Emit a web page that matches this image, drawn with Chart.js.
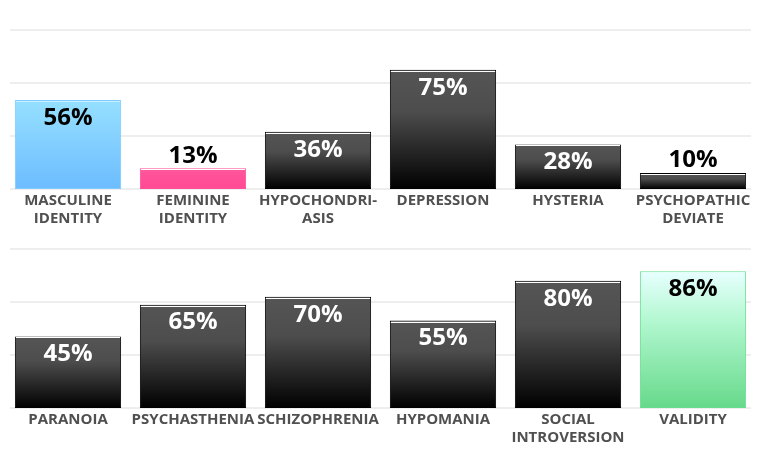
<!DOCTYPE html>
<html lang="en">
<head>
    <title>Personality Scale Bars</title>
    <script src="https://cdn.jsdelivr.net/npm/chart.js"></script>
    <style>
        body { margin: 0; background: #fff; }
        .wrap { position: absolute; left: 0; width: 760px; }
    </style>
</head>
<body>
    <div class="wrap" style="top:0"><canvas id="topChart" width="760" height="235"></canvas></div>
    <div class="wrap" style="top:219px"><canvas id="bottomChart" width="760" height="251"></canvas></div>

    <script type="text/javascript">

        const topLabels = [['MASCULINE', 'IDENTITY'], ['FEMININE', 'IDENTITY'], ['HYPOCHONDRI-', 'ASIS'],
            'DEPRESSION', 'HYSTERIA', ['PSYCHOPATHIC', 'DEVIATE']];
        const topValues = [56, 13, 36, 75, 28, 10];
        const topKinds = ['blue', 'pink', 'dark', 'dark', 'dark', 'dark'];

        const bottomLabels = ['PARANOIA', 'PSYCHASTHENIA', 'SCHIZOPHRENIA', 'HYPOMANIA',
            ['SOCIAL', 'INTROVERSION'], 'VALIDITY'];
        const bottomValues = [45, 65, 70, 55, 80, 86];
        const bottomKinds = ['dark', 'dark', 'dark', 'dark', 'dark', 'green'];

        const gridValues = [0, 100 / 3, 200 / 3, 100];

        const palette = {
            dark: { stops: ['#555555', '#4d4d4d', '#000000'], border: '#000000', text: '#ffffff' },
            blue: { stops: ['#95e0ff', '#88d4ff', '#6cbcff'], border: '#7fcbff', text: '#000000' },
            pink: { stops: ['#ff5a9e', '#ff5199', '#ff4a94'], border: '#ff4f98', text: '#000000' },
            green: { stops: ['#e8ffff', '#b4f8d2', '#66d98a'], border: '#66dd8e', text: '#000000' }
        };

        const gridLines = {
            id: 'gridLines',
            beforeDatasetsDraw(chart) {
                const { ctx, scales: { y } } = chart;
                ctx.save();
                ctx.strokeStyle = '#e9e9e9';
                ctx.lineWidth = 1.5;
                gridValues.forEach(v => {
                    const py = y.getPixelForValue(v);
                    ctx.beginPath();
                    ctx.moveTo(10, py);
                    ctx.lineTo(751, py);
                    ctx.stroke();
                });
                ctx.restore();
            }
        };

        const barDecor = {
            id: 'barDecor',
            afterDatasetsDraw(chart) {
                const { ctx } = chart;
                const kinds = chart.options.plugins.barDecor.kinds;
                const meta = chart.getDatasetMeta(0);
                const values = chart.data.datasets[0].data;
                ctx.save();
                meta.data.forEach((bar, i) => {
                    const half = bar.width / 2;
                    // thin white highlight under the top edge
                    if (kinds[i] !== 'green') {
                        ctx.strokeStyle = kinds[i] === 'blue' ? 'rgba(255,255,255,0.5)' : '#ffffff';
                        ctx.lineWidth = 1;
                        ctx.beginPath();
                        ctx.moveTo(bar.x - half + 1, Math.round(bar.y) + 1.5);
                        ctx.lineTo(bar.x + half - 1, Math.round(bar.y) + 1.5);
                        ctx.stroke();
                    }
                    const inside = values[i] >= 20;
                    ctx.font = 'bold 24px "Open Sans"';
                    ctx.textAlign = 'center';
                    ctx.textBaseline = 'middle';
                    ctx.fillStyle = inside ? palette[kinds[i]].text : '#000000';
                    ctx.fillText(values[i] + '%', bar.x, inside ? bar.y + 18 : bar.y - 12.5);
                });
                ctx.restore();
            }
        };

        function makeChart(id, labels, values, kinds, axisHeight) {
            return new Chart(document.getElementById(id), {
                type: 'bar',
                data: {
                    labels: labels,
                    datasets: [{
                        data: values,
                        backgroundColor(c) {
                            const { chart, dataIndex } = c;
                            if (!chart.chartArea) return palette[kinds[dataIndex]].stops[2];
                            const y = chart.scales.y;
                            const top = y.getPixelForValue(values[dataIndex]);
                            const base = y.getPixelForValue(0);
                            const s = palette[kinds[dataIndex]].stops;
                            const g = chart.ctx.createLinearGradient(0, top, 0, base);
                            g.addColorStop(0, s[0]);
                            g.addColorStop(0.35, s[1]);
                            g.addColorStop(1, s[2]);
                            return g;
                        },
                        borderColor: kinds.map(k => palette[k].border),
                        borderWidth: 1,
                        borderSkipped: false,
                        categoryPercentage: 1,
                        barPercentage: 0.85
                    }]
                },
                options: {
                    responsive: false,
                    animation: false,
                    layout: { padding: { top: 30, left: 5.5, right: 4.5, bottom: 0 } },
                    scales: {
                        y: { display: false, min: 0, max: 100 },
                        x: {
                            grid: { display: false, drawTicks: false },
                            border: { display: false },
                            afterFit(axis) { axis.height = axisHeight; },
                            ticks: {
                                color: '#505050',
                                font: { family: '"Open Sans"', weight: 'bold', size: 15, lineHeight: 1.2 },
                                padding: 2.5,
                                maxRotation: 0,
                                autoSkip: false
                            }
                        }
                    },
                    plugins: {
                        legend: { display: false },
                        tooltip: { enabled: false },
                        barDecor: { kinds: kinds }
                    }
                },
                plugins: [gridLines, barDecor]
            });
        }

        makeChart('topChart', topLabels, topValues, topKinds, 46);
        makeChart('bottomChart', bottomLabels, bottomValues, bottomKinds, 62);
    </script>
</body>
</html>
